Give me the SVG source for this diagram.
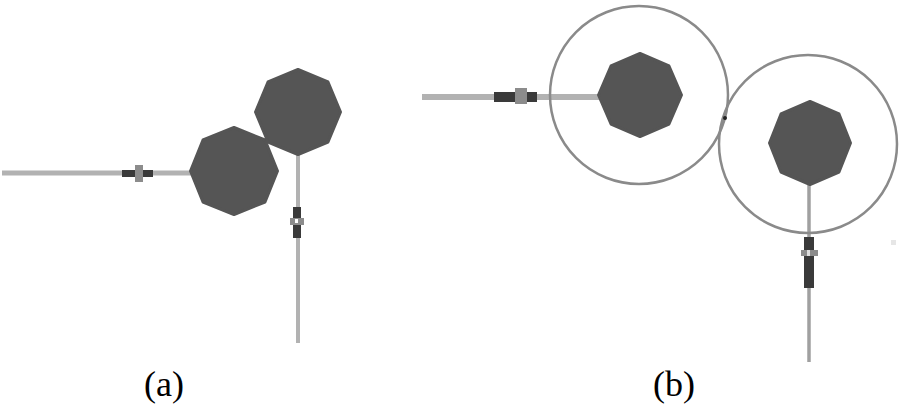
<svg xmlns="http://www.w3.org/2000/svg" width="905" height="412" viewBox="0 0 905 412">
<style>
.wire{stroke:#b2b2b2;fill:none;stroke-linecap:butt}
.ball{fill:#555555;stroke:#555555;stroke-width:3;stroke-linejoin:round}
.ring{fill:none;stroke:#8a8a8a;stroke-width:2.5}
.mk{fill:#3a3a3a}
.mkl{fill:#8c8c8c}
.lbl{font-family:"Liberation Serif","Times New Roman",serif;font-size:36px;fill:#000;text-anchor:middle}
</style>
<rect width="905" height="412" fill="#ffffff"/>
<g id="connectors">
<line class="wire" x1="2" y1="173" x2="192" y2="173" stroke-width="5"/>
<rect class="mk" x="122" y="170" width="31" height="7"/>
<rect class="mkl" x="135" y="165" width="8" height="17"/>
<line class="wire" x1="298" y1="150" x2="298" y2="343" stroke-width="4"/>
<rect class="mk" x="293" y="207" width="8" height="31"/>
<rect class="mkl" x="290" y="218" width="14" height="7"/>
<rect fill="#ffffff" x="295" y="219" width="3" height="4"/>
<line class="wire" x1="422" y1="97" x2="600" y2="97" stroke-width="6"/>
<rect class="mk" x="494" y="92" width="43" height="10"/>
<rect class="mkl" x="515" y="88" width="12" height="16"/>
<line class="wire" x1="809" y1="183" x2="809" y2="362" stroke-width="3.5" style="stroke:#a0a0a0"/>
<rect class="mk" x="804" y="237" width="10" height="51"/>
<rect class="mkl" x="801" y="250" width="17" height="6"/>
<rect fill="#dddddd" x="807" y="250" width="3" height="6"/>
</g>
<g id="node-a1"><polygon class="ball" points="277.5,171 265,202 234,214.5 203,202 190.5,171 203,140 234,127.5 265,140"/></g>
<g id="node-a2"><polygon class="ball" points="340.5,112 328,142 298,154.5 268,142 255.5,112 268,82 298,69.5 328,82"/></g>
<g id="node-b1">
<circle class="ring" cx="639" cy="95" r="89"/>
<polygon class="ball" points="681.5,95 669,124 640,136.5 611,124 598.5,95 611,66 640,53.5 669,66"/>
</g>
<g id="node-b2">
<circle class="ring" cx="808" cy="144" r="89"/>
<polygon class="ball" points="850.5,143 839,172 810,184.5 781,172 769.5,143 781,114 810,101.5 839,114"/>
</g>
<circle cx="725" cy="118" r="2" fill="#222"/>
<rect x="891" y="240" width="5" height="5" fill="#e6e6e6"/>
<text class="lbl" x="164" y="396">(a)</text>
<text class="lbl" x="674" y="396">(b)</text>
</svg>
